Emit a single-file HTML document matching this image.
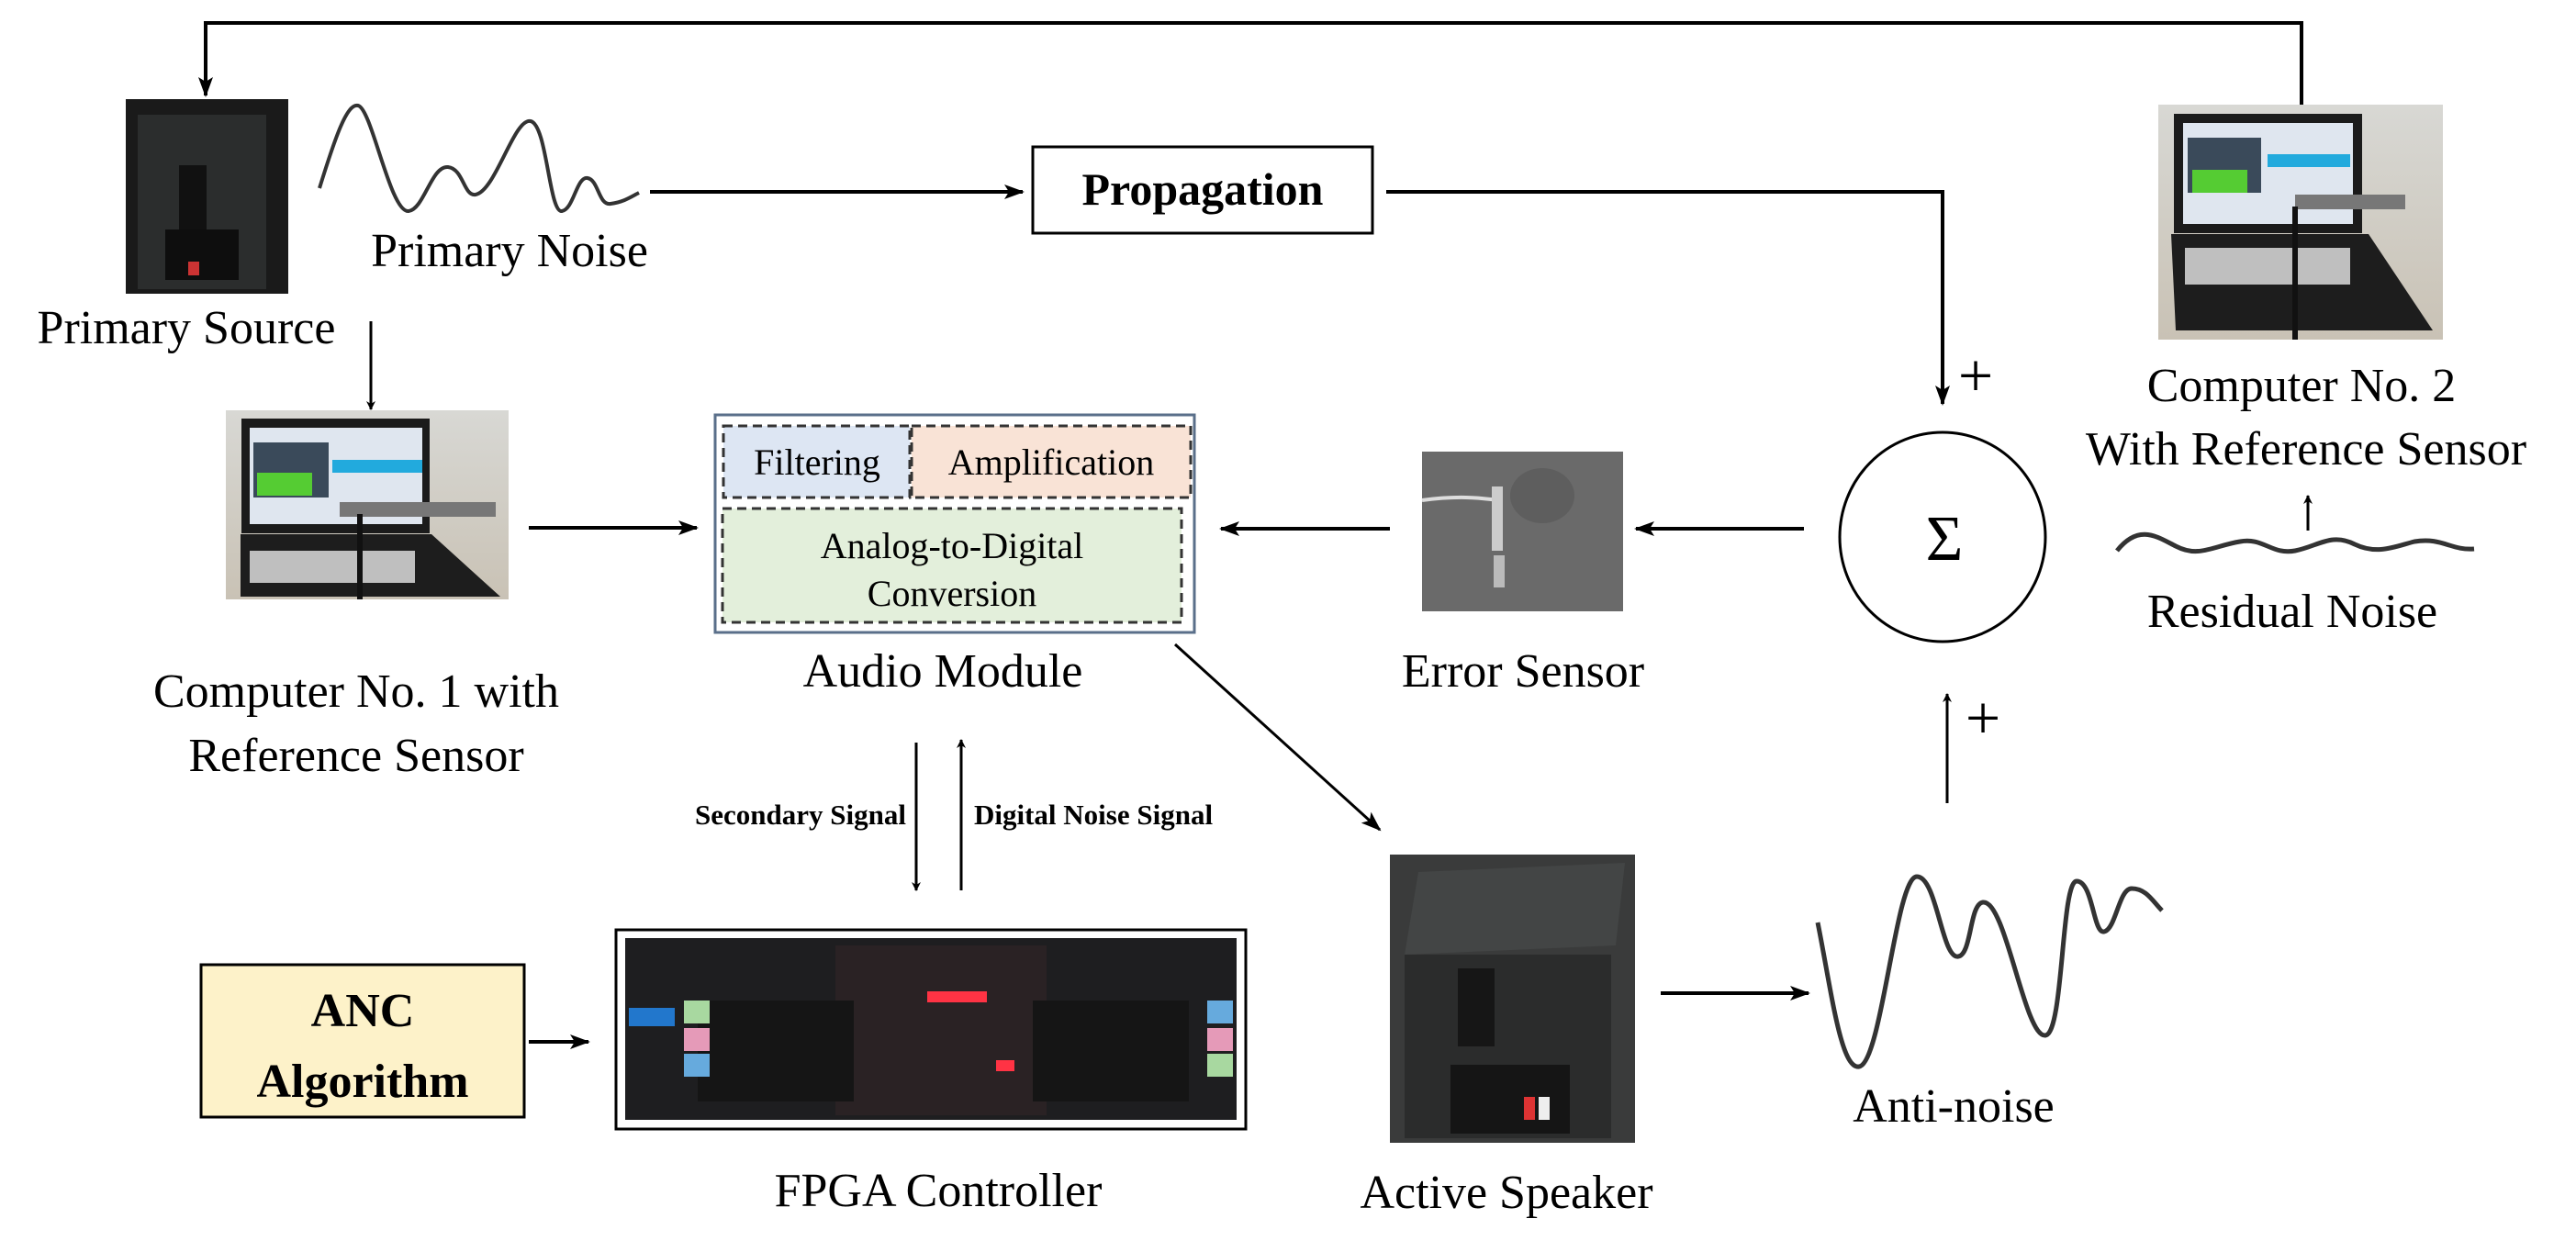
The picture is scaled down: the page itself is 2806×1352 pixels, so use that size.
<!DOCTYPE html>
<html><head><meta charset="utf-8"><style>
html,body{margin:0;padding:0;background:#fff;}
svg{display:block;}
text{font-family:"Liberation Serif",serif;fill:#000;}
</style></head><body>
<svg width="2806" height="1352" viewBox="0 0 2806 1352" xmlns="http://www.w3.org/2000/svg">
<defs>
<marker id="ah" markerWidth="10" markerHeight="10" refX="9" refY="5" orient="auto" markerUnits="userSpaceOnUse" viewBox="0 0 10 10">
<path d="M0,0 L10,5 L0,10 L3,5 z" fill="#000"/></marker>
<marker id="a2" markerWidth="22" markerHeight="22" refX="20" refY="11" orient="auto" markerUnits="userSpaceOnUse" viewBox="0 0 22 22">
<path d="M0,3 L22,11 L0,19 L5,11 z" fill="#000"/></marker>
<linearGradient id="lap" x1="0" y1="0" x2="0" y2="1">
<stop offset="0" stop-color="#d8d8d4"/><stop offset="1" stop-color="#c9c2b5"/></linearGradient>
</defs>

<polyline points="2507,114 2507,25 224,25 224,104" fill="none" stroke="#000" stroke-width="4" marker-end="url(#a2)"/>

<rect x="137" y="108" width="177" height="212" fill="#1a1a1a"/>
<rect x="150" y="125" width="140" height="190" fill="#2b2d2d"/>
<rect x="195" y="180" width="30" height="70" fill="#111"/>
<rect x="180" y="250" width="80" height="55" fill="#0e0e0e"/>
<rect x="205" y="285" width="12" height="15" fill="#c33"/>

<path d="M348,205 C365,150 378,112 390,115 C405,118 425,232 445,230 C462,228 470,180 488,182 C505,184 505,214 518,212 C540,208 560,128 578,132 C596,136 598,232 612,230 C625,228 628,192 640,194 C652,196 652,224 665,222 C680,220 688,214 696,210" fill="none" stroke="#333" stroke-width="4"/>
<text x="555" y="290" font-size="52" text-anchor="middle">Primary Noise</text>
<text x="203" y="374" font-size="52" text-anchor="middle">Primary Source</text>

<line x1="708" y1="209" x2="1114" y2="209" stroke="#000" stroke-width="4" marker-end="url(#a2)"/>
<rect x="1125" y="160" width="370" height="94" fill="#fff" stroke="#000" stroke-width="3"/>
<text x="1310" y="223" font-size="50" font-weight="bold" text-anchor="middle">Propagation</text>
<polyline points="1510,209 2116,209 2116,440" fill="none" stroke="#000" stroke-width="4" marker-end="url(#a2)"/>
<text x="2152" y="432" font-size="68" text-anchor="middle">+</text>

<rect x="2351" y="114" width="310" height="256" fill="url(#lap)"/>
<rect x="2368" y="124" width="205" height="130" fill="#1b1b1b"/>
<rect x="2378" y="134" width="185" height="110" fill="#dfe6ef"/>
<rect x="2383" y="150" width="80" height="60" fill="#3a4a5a"/>
<rect x="2388" y="185" width="60" height="25" fill="#55cc33"/>
<path d="M2470,175 L2560,175" stroke="#22aadd" stroke-width="14"/>
<path d="M2365,255 L2580,255 L2650,360 L2370,360 z" fill="#1d1d1d"/>
<rect x="2380" y="270" width="180" height="40" fill="#bfbfbf"/>
<line x1="2500" y1="220" x2="2620" y2="220" stroke="#777" stroke-width="16"/>
<line x1="2500" y1="225" x2="2500" y2="370" stroke="#111" stroke-width="6"/>
<text x="2507" y="437" font-size="52" text-anchor="middle">Computer No. 2</text>
<text x="2512" y="506" font-size="52" text-anchor="middle">With Reference Sensor</text>

<ellipse cx="2116" cy="585" rx="112" ry="114" fill="#fff" stroke="#000" stroke-width="3"/>
<text x="2118" y="610" font-size="70" text-anchor="middle">Σ</text>

<path d="M2306,600 C2330,570 2350,585 2370,595 C2395,608 2410,595 2440,590 C2465,585 2475,605 2500,600 C2525,595 2540,580 2565,593 C2590,605 2610,595 2630,590 C2660,585 2670,600 2695,598" fill="none" stroke="#333" stroke-width="5"/>
<line x1="2514" y1="578" x2="2514" y2="540" stroke="#000" stroke-width="3" marker-end="url(#ah)"/>
<text x="2497" y="683" font-size="52" text-anchor="middle">Residual Noise</text>

<line x1="1965" y1="576" x2="1782" y2="576" stroke="#000" stroke-width="4" marker-end="url(#a2)"/>
<rect x="1549" y="492" width="219" height="174" fill="#6a6a6a"/>
<ellipse cx="1680" cy="540" rx="35" ry="30" fill="#5e5e5e"/>
<path d="M1549,545 C1600,538 1625,545 1635,545" stroke="#ddd" stroke-width="4" fill="none"/>
<rect x="1625" y="530" width="12" height="70" fill="#ccc"/>
<rect x="1627" y="605" width="12" height="35" fill="#bbb"/>
<text x="1659" y="748" font-size="52" text-anchor="middle">Error Sensor</text>
<line x1="1514" y1="576" x2="1330" y2="576" stroke="#000" stroke-width="4" marker-end="url(#a2)"/>

<line x1="404" y1="350" x2="404" y2="446" stroke="#000" stroke-width="3" marker-end="url(#ah)"/>
<rect x="246" y="447" width="308" height="206" fill="url(#lap)"/>
<rect x="263" y="456" width="205" height="125" fill="#1b1b1b"/>
<rect x="272" y="466" width="188" height="105" fill="#dfe6ef"/>
<rect x="276" y="482" width="82" height="60" fill="#3a4a5a"/>
<rect x="280" y="515" width="60" height="25" fill="#55cc33"/>
<path d="M362,508 L460,508" stroke="#22aadd" stroke-width="14"/>
<path d="M262,582 L470,582 L545,650 L262,650 z" fill="#1d1d1d"/>
<rect x="272" y="600" width="180" height="35" fill="#bfbfbf"/>
<line x1="370" y1="555" x2="540" y2="555" stroke="#777" stroke-width="16"/>
<line x1="392" y1="560" x2="392" y2="653" stroke="#111" stroke-width="6"/>
<text x="388" y="770" font-size="52" text-anchor="middle">Computer No. 1 with</text>
<text x="388" y="840" font-size="52" text-anchor="middle">Reference Sensor</text>

<line x1="576" y1="575" x2="759" y2="575" stroke="#000" stroke-width="4" marker-end="url(#a2)"/>

<rect x="779" y="452" width="522" height="237" fill="#fff" stroke="#5a6f8a" stroke-width="3"/>
<rect x="788" y="464" width="203" height="78" fill="#dde6f3" stroke="#333" stroke-width="3" stroke-dasharray="10,6"/>
<rect x="993" y="464" width="304" height="78" fill="#f9e3d6" stroke="#333" stroke-width="3" stroke-dasharray="10,6"/>
<rect x="787" y="554" width="500" height="124" fill="#e3efdb" stroke="#333" stroke-width="3" stroke-dasharray="10,6"/>
<text x="890" y="517" font-size="40" text-anchor="middle">Filtering</text>
<text x="1145" y="517" font-size="40" text-anchor="middle">Amplification</text>
<text x="1037" y="608" font-size="40" text-anchor="middle">Analog-to-Digital</text>
<text x="1037" y="660" font-size="40" text-anchor="middle">Conversion</text>
<text x="1027" y="748" font-size="52" text-anchor="middle">Audio Module</text>

<line x1="998" y1="809" x2="998" y2="970" stroke="#000" stroke-width="3" marker-end="url(#ah)"/>
<line x1="1047" y1="970" x2="1047" y2="806" stroke="#000" stroke-width="3" marker-end="url(#ah)"/>
<text x="987" y="898" font-size="31" font-weight="bold" text-anchor="end">Secondary Signal</text>
<text x="1061" y="898" font-size="31" font-weight="bold">Digital Noise Signal</text>

<rect x="671" y="1013" width="686" height="217" fill="#fff" stroke="#000" stroke-width="3"/>
<rect x="681" y="1022" width="666" height="198" fill="#1e1e20"/>
<rect x="910" y="1030" width="230" height="185" fill="#2a2224"/>
<rect x="760" y="1090" width="170" height="110" fill="#151515"/>
<rect x="1125" y="1090" width="170" height="110" fill="#151515"/>
<rect x="685" y="1098" width="50" height="20" fill="#2277cc"/>
<rect x="745" y="1090" width="28" height="25" fill="#a8d8a0"/>
<rect x="745" y="1120" width="28" height="25" fill="#e59ab8"/>
<rect x="745" y="1148" width="28" height="25" fill="#66aadd"/>
<rect x="1315" y="1090" width="28" height="25" fill="#66aadd"/>
<rect x="1315" y="1120" width="28" height="25" fill="#e59ab8"/>
<rect x="1315" y="1148" width="28" height="25" fill="#a8d8a0"/>
<rect x="1010" y="1080" width="65" height="12" fill="#ff3344"/>
<rect x="1085" y="1155" width="20" height="12" fill="#ff3344"/>
<text x="1022" y="1314" font-size="52" text-anchor="middle">FPGA Controller</text>

<rect x="219" y="1051" width="352" height="166" fill="#fdf2c9" stroke="#000" stroke-width="3"/>
<text x="395" y="1118" font-size="52" font-weight="bold" text-anchor="middle">ANC</text>
<text x="395" y="1195" font-size="52" font-weight="bold" text-anchor="middle">Algorithm</text>
<line x1="576" y1="1135" x2="641" y2="1135" stroke="#000" stroke-width="4" marker-end="url(#a2)"/>

<line x1="1280" y1="702" x2="1503" y2="904" stroke="#000" stroke-width="3" marker-end="url(#a2)"/>

<rect x="1514" y="931" width="267" height="314" fill="#3a3b3b"/>
<path d="M1545,950 L1770,940 L1760,1030 L1530,1040 z" fill="#434545"/>
<rect x="1530" y="1040" width="225" height="200" fill="#2b2c2c"/>
<rect x="1588" y="1055" width="40" height="85" fill="#161616"/>
<rect x="1580" y="1160" width="130" height="75" fill="#151515"/>
<rect x="1660" y="1195" width="12" height="25" fill="#d33"/>
<rect x="1676" y="1195" width="12" height="25" fill="#eee"/>
<text x="1641" y="1316" font-size="52" text-anchor="middle">Active Speaker</text>

<line x1="1809" y1="1082" x2="1970" y2="1082" stroke="#000" stroke-width="4" marker-end="url(#a2)"/>
<path d="M1980,1005 C1995,1080 2005,1165 2025,1162 C2050,1158 2065,955 2088,955 C2110,955 2115,1045 2133,1042 C2148,1040 2145,985 2160,983 C2185,980 2205,1130 2228,1128 C2248,1126 2245,960 2262,960 C2280,960 2280,1018 2292,1015 C2305,1012 2308,968 2322,968 C2338,968 2345,982 2355,992" fill="none" stroke="#333" stroke-width="5"/>
<text x="2128" y="1222" font-size="52" text-anchor="middle">Anti-noise</text>

<line x1="2121" y1="875" x2="2121" y2="756" stroke="#000" stroke-width="3" marker-end="url(#ah)"/>
<text x="2160" y="805" font-size="68" text-anchor="middle">+</text>
</svg>
</body></html>
